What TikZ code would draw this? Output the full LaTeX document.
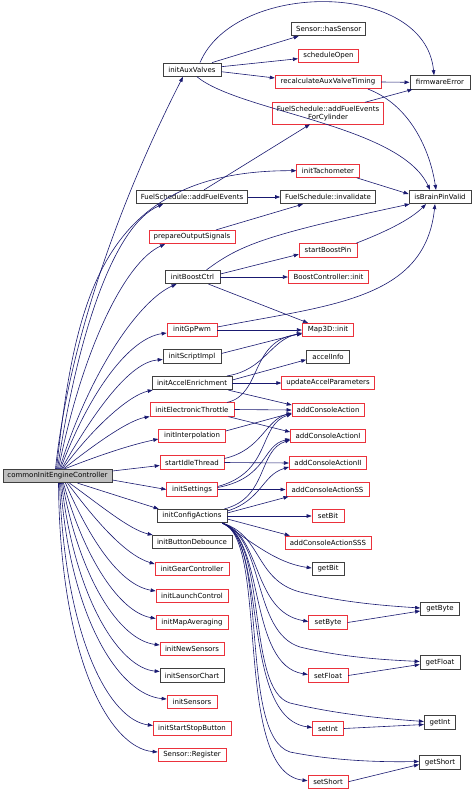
\documentclass[tikz,border=0pt]{standalone}
\usepackage{fontspec}
\setmainfont{DejaVu Sans}
\usetikzlibrary{arrows.meta}
\definecolor{edgec}{RGB}{25,25,112}
\definecolor{boxk}{RGB}{64,64,64}
\definecolor{boxr}{RGB}{235,50,60}
\definecolor{rootfill}{RGB}{191,191,191}
\begin{document}
\begin{tikzpicture}[x=1pt,y=-1pt,
  font=\fontsize{7}{8.2}\selectfont,
  fn/.style={draw=boxk, fill=white, line width=0.7pt, minimum height=13.5pt,
    inner xsep=0pt, inner ysep=0pt, align=center},
  fnr/.style={fn, draw=boxr},
  edge/.style={draw=edgec, line width=0.6pt, -{Triangle[length=5pt,width=3.6pt]}}]
\useasboundingbox (0,0) rectangle (474,792);
% root
\node[fn, fill=rootfill, minimum width=109pt] (root) at (57.5,476) {commonInitEngineController};
% column 2
\node[fn,  minimum width=58pt]  (iav)     at (192,69.7)  {initAuxValves};
\node[fn,  minimum width=111pt] (fsAdd)   at (192,197)   {FuelSchedule::addFuelEvents};
\node[fnr, minimum width=86pt]  (pOut)    at (192,237)   {prepareOutputSignals};
\node[fn,  minimum width=55pt]  (iBoost)  at (192.5,277) {initBoostCtrl};
\node[fnr, minimum width=50pt]  (iGp)     at (192,330)   {initGpPwm};
\node[fn,  minimum width=58pt]  (iScript) at (192,356.5) {initScriptImpl};
\node[fn,  minimum width=80pt]  (iAccel)  at (192,383)   {initAccelEnrichment};
\node[fnr, minimum width=84pt]  (iEtb)    at (192,409.5) {initElectronicThrottle};
\node[fnr, minimum width=66.7pt](iInterp) at (192,436)   {initInterpolation};
\node[fnr, minimum width=64pt]  (sIdle)   at (192,462.5) {startIdleThread};
\node[fnr, minimum width=50.7pt](iSet)    at (192,489.5) {initSettings};
\node[fn,  minimum width=70pt]  (iCfg)    at (192,516)   {initConfigActions};
\node[fn,  minimum width=80pt]  (iBtn)    at (192,542)   {initButtonDebounce};
\node[fnr, minimum width=74pt]  (iGear)   at (192,569)   {initGearController};
\node[fnr, minimum width=72pt]  (iLaunch) at (192,596)   {initLaunchControl};
\node[fnr, minimum width=72pt]  (iMap)    at (192,622.5) {initMapAveraging};
\node[fnr, minimum width=64pt]  (iNew)    at (192,649)   {initNewSensors};
\node[fn,  minimum width=64pt]  (iChart)  at (192,675.5) {initSensorChart};
\node[fnr, minimum width=50pt]  (iSens)   at (192,702)   {initSensors};
\node[fnr, minimum width=77.7pt](iSSB)    at (192,728.5) {initStartStopButton};
\node[fnr, minimum width=68pt]  (sReg)    at (192,755)   {Sensor::Register};
% column 3
\node[fn,  minimum width=74pt]  (hasS)    at (328.7,29)  {Sensor::hasSensor};
\node[fnr, minimum width=60.4pt](sOpen)   at (328.5,55.7){scheduleOpen};
\node[fnr, minimum width=105.7pt](rAux)   at (328,82)    {recalculateAuxValveTiming};
\node[fnr, minimum width=110.6pt, minimum height=21.3pt] (fsCyl) at (328,113.3) {FuelSchedule::addFuelEvents\\ForCylinder};
\node[fnr, minimum width=62.6pt](iTach)   at (328,170.7) {initTachometer};
\node[fn,  minimum width=95pt]  (fsInv)   at (328,197)   {FuelSchedule::invalidate};
\node[fnr, minimum width=57.7pt](sBoostPin) at (328,250.3) {startBoostPin};
\node[fnr, minimum width=80.4pt](bcInit)  at (328.5,277) {BoostController::init};
\node[fnr, minimum width=51.4pt](m3d)     at (328,330)   {Map3D::init};
\node[fn,  minimum width=43pt]  (accInfo) at (328,356.7) {accelInfo};
\node[fnr, minimum width=92.6pt](uAccel)  at (328,383)   {updateAccelParameters};
\node[fnr, minimum width=72pt]  (aca)     at (328,410)   {addConsoleAction};
\node[fnr, minimum width=75pt]  (acaI)    at (328,436)   {addConsoleActionI};
\node[fnr, minimum width=77.4pt](acaII)   at (328,463)   {addConsoleActionII};
\node[fnr, minimum width=83.3pt](acaSS)   at (327.5,489.5) {addConsoleActionSS};
\node[fnr, minimum width=32pt]  (setBit)  at (328,516)   {setBit};
\node[fnr, minimum width=85.7pt](acaSSS)  at (328,542.7) {addConsoleActionSSS};
\node[fn,  minimum width=32pt]  (getBit)  at (328,569)   {getBit};
\node[fnr, minimum width=38.7pt](setByte) at (328,622.5) {setByte};
\node[fnr, minimum width=39.7pt](setFloat) at (328,675.5) {setFloat};
\node[fnr, minimum width=31pt]  (setInt)  at (328,728.5) {setInt};
\node[fnr, minimum width=40.3pt](setShort) at (328,781.7) {setShort};
% column 4
\node[fn,  minimum width=60.3pt](fwErr)   at (440,82.3)  {firmwareError};
\node[fn,  minimum width=62pt]  (isBP)    at (440,197)   {isBrainPinValid};
\node[fn,  minimum width=39pt]  (getByte) at (440,609)   {getByte};
\node[fn,  minimum width=40pt]  (getFloat) at (440,662.5) {getFloat};
\node[fn,  minimum width=31.6pt](getInt)  at (440,722.5) {getInt};
\node[fn,  minimum width=41.3pt](getShort) at (440,762.5) {getShort};

% root edges (upward)
\draw[edge] ([xshift=-2pt]root.north) .. controls (70,330) and (130,180) .. ([xshift=-9pt]iav.south);
\draw[edge] ([xshift=-1pt]root.north) .. controls (75,300) and (100,170) .. (iTach.west);
\draw[edge] (root.north) .. controls (78,330) and (115,225) .. ([xshift=-29pt]fsAdd.south);
\draw[edge] ([xshift=1pt]root.north) .. controls (82,350) and (125,262) .. ([xshift=-27pt]pOut.south);
\draw[edge] ([xshift=2pt]root.north) .. controls (90,370) and (140,300) .. ([xshift=-16pt]iBoost.south);
\draw[edge] ([xshift=3pt]root.north) .. controls (90,390) and (130,338) .. ([yshift=-3pt]iGp.west);
\draw[edge] ([xshift=4pt]root.north) .. controls (95,410) and (130,362) .. ([yshift=-3pt]iScript.west);
\draw[edge] ([xshift=5pt]root.north) .. controls (95,425) and (130,395) .. ([xshift=1pt]iAccel.south west);
\draw[edge] ([xshift=6pt]root.north) .. controls (100,440) and (130,420) .. (iEtb.south west);
\draw[edge] ([xshift=7pt]root.north) .. controls (100,455) and (130,445) .. ([yshift=-3pt]iInterp.west);
\draw[edge] ([yshift=5pt]root.east) -- ([yshift=-3pt]sIdle.west);
\draw[edge] ([yshift=-4pt]root.east) -- (iSet.west);
% root edges (downward)
\draw[edge] ([xshift=20pt]root.south) -- ([xshift=2pt]iCfg.north west);
\draw[edge] ([xshift=12pt]root.south) .. controls (100,505) and (130,530) .. ([xshift=1pt]iBtn.north west);
\draw[edge] ([xshift=10pt]root.south) .. controls (95,520) and (125,555) .. ([yshift=5pt]iGear.west);
\draw[edge] ([xshift=8pt]root.south) .. controls (90,540) and (120,585) .. ([yshift=5pt]iLaunch.west);
\draw[edge] ([xshift=6pt]root.south) .. controls (85,560) and (120,612) .. ([yshift=4pt]iMap.west);
\draw[edge] ([xshift=5pt]root.south) .. controls (80,580) and (120,640) .. ([yshift=4pt]iNew.west);
\draw[edge] ([xshift=4pt]root.south) .. controls (75,600) and (120,668) .. ([yshift=4pt]iChart.west);
\draw[edge] ([xshift=3pt]root.south) .. controls (70,620) and (120,695) .. ([yshift=3pt]iSens.west);
\draw[edge] ([xshift=2pt]root.south) .. controls (65,640) and (110,720) .. ([yshift=3pt]iSSB.west);
\draw[edge] ([xshift=1pt]root.south) .. controls (60,660) and (110,748) .. ([yshift=3pt]sReg.west);

% initAuxValves
\draw[edge] ([xshift=8pt]iav.north) .. controls (235,-20) and (425,-20) .. ([xshift=-6pt]fwErr.north);
\draw[edge] ([xshift=20pt]iav.north) -- ([xshift=-30pt]hasS.south);
\draw[edge] ([yshift=3pt]iav.east) -- ([yshift=-3pt]sOpen.west);
\draw[edge] ([yshift=-2pt]iav.east) -- ([yshift=4pt]rAux.west);
\draw[edge] ([xshift=5pt]iav.south) .. controls (240,112) and (400,125) .. ([xshift=-10pt]isBP.north);
\draw[edge] (rAux.east) -- (fwErr.west);
\draw[edge] ([xshift=40pt]rAux.south) .. controls (410,105) and (430,150) .. ([xshift=-4pt]isBP.north);
\draw[edge] ([xshift=37pt]fsCyl.north) -- ([xshift=3pt]fwErr.south west);
\draw[edge] ([xshift=12pt]fsAdd.north) -- ([xshift=-18pt]fsCyl.south);
\draw[edge] (fsAdd.east) -- (fsInv.west);
\draw[edge] ([xshift=-3pt]iTach.south east) -- ([yshift=3pt]isBP.west);
\draw[edge] ([xshift=24pt]pOut.north) -- ([xshift=-25pt]fsInv.south);
% initBoostCtrl
\draw[edge] ([xshift=14pt]iBoost.north) .. controls (240,245) and (265,235) .. ([xshift=1pt]isBP.south west);
\draw[edge] ([yshift=3pt]iBoost.east) -- ([yshift=-4pt]sBoostPin.west);
\draw[edge] (iBoost.east) -- (bcInit.west);
\draw[edge] ([xshift=16pt]iBoost.south) -- ([xshift=-20pt]m3d.north);
\draw[edge] ([xshift=-1pt]sBoostPin.north east) .. controls (385,232) and (410,220) .. ([xshift=-14pt]isBP.south);
% initGpPwm etc.
\draw[edge] ([yshift=3pt]iGp.east) .. controls (330,305) and (425,300) .. ([xshift=-5pt]isBP.south);
\draw[edge] (iGp.east) -- (m3d.west);
\draw[edge] ([yshift=3pt]iScript.east) -- ([yshift=-3pt]m3d.west);
\draw[edge] ([xshift=35pt]iAccel.north) .. controls (265,370) and (270,340) .. ([yshift=-3pt]m3d.west);
\draw[edge] ([yshift=3pt]iAccel.east) -- ([yshift=-3pt]accInfo.west);
\draw[edge] (iAccel.east) -- (uAccel.west);
\draw[edge] ([xshift=-4pt]iAccel.south east) -- ([yshift=5pt]aca.west);
\draw[edge] ([xshift=35pt]iEtb.north) .. controls (262,395) and (250,340) .. ([yshift=-4pt]m3d.west);
\draw[edge] (iEtb.east) -- (aca.west);
\draw[edge] ([xshift=-6pt]iEtb.south east) -- ([yshift=4pt]acaI.west);
\draw[edge] ([yshift=5pt]iInterp.east) -- ([yshift=-3pt]aca.west);
\draw[edge] ([yshift=4pt]sIdle.east) .. controls (262,450) and (265,420) .. ([yshift=-3pt]aca.west);
\draw[edge] (sIdle.east) -- (acaII.west);
\draw[edge] ([yshift=3pt]iSet.east) .. controls (272,472) and (258,425) .. ([yshift=-4pt]aca.west);
\draw[edge] ([yshift=2pt]iSet.east) .. controls (268,478) and (262,445) .. ([yshift=-3pt]acaI.west);
\draw[edge] (iSet.east) -- (acaSS.west);
% initConfigActions
\draw[edge] ([xshift=-3pt]iCfg.north east) .. controls (268,498) and (258,450) .. ([yshift=-4pt]acaI.west);
\draw[edge] ([yshift=5pt]iCfg.east) .. controls (262,500) and (262,475) .. ([yshift=-4pt]acaII.west);
\draw[edge] ([yshift=3pt]iCfg.east) -- ([xshift=3pt]acaSS.south west);
\draw[edge] (iCfg.east) -- (setBit.west);
\draw[edge] ([yshift=-3pt]iCfg.east) -- ([xshift=5pt]acaSSS.north west);
\draw[edge] ([xshift=-5pt]iCfg.south east) .. controls (250,540) and (275,563) .. ([yshift=1pt]getBit.west);
\draw[edge] ([xshift=-5pt]iCfg.south east) .. controls (262,535) and (255,580) .. (300,592) .. controls (345,603) and (390,606) .. ([yshift=1pt]getByte.west);
\draw[edge] ([xshift=-5pt]iCfg.south east) .. controls (262,535) and (252,612) .. ([yshift=1pt]setByte.west);
\draw[edge] ([xshift=-5pt]iCfg.south east) .. controls (265,538) and (252,632) .. (300,647) .. controls (345,658) and (390,660) .. ([yshift=1pt]getFloat.west);
\draw[edge] ([xshift=-5pt]iCfg.south east) .. controls (265,538) and (248,665) .. ([yshift=1pt]setFloat.west);
\draw[edge] ([xshift=-5pt]iCfg.south east) .. controls (268,540) and (246,690) .. (290,703) .. controls (340,715) and (390,719) .. ([yshift=1pt]getInt.west);
\draw[edge] ([xshift=-5pt]iCfg.south east) .. controls (268,540) and (240,718) .. ([yshift=1pt]setInt.west);
\draw[edge] ([xshift=-5pt]iCfg.south east) .. controls (270,540) and (238,735) .. (290,752) .. controls (340,762) and (390,762) .. ([yshift=1pt]getShort.west);
\draw[edge] ([xshift=-5pt]iCfg.south east) .. controls (270,540) and (232,772) .. ([yshift=1pt]setShort.west);
% setters -> getters
\draw[edge] (setByte.east) -- ([yshift=-2pt]getByte.west);
\draw[edge] (setFloat.east) -- ([yshift=-2pt]getFloat.west);
\draw[edge] (setInt.east) -- ([yshift=-2pt]getInt.west);
\draw[edge] (setShort.east) -- ([yshift=-2pt]getShort.west);
\end{tikzpicture}
\end{document}
